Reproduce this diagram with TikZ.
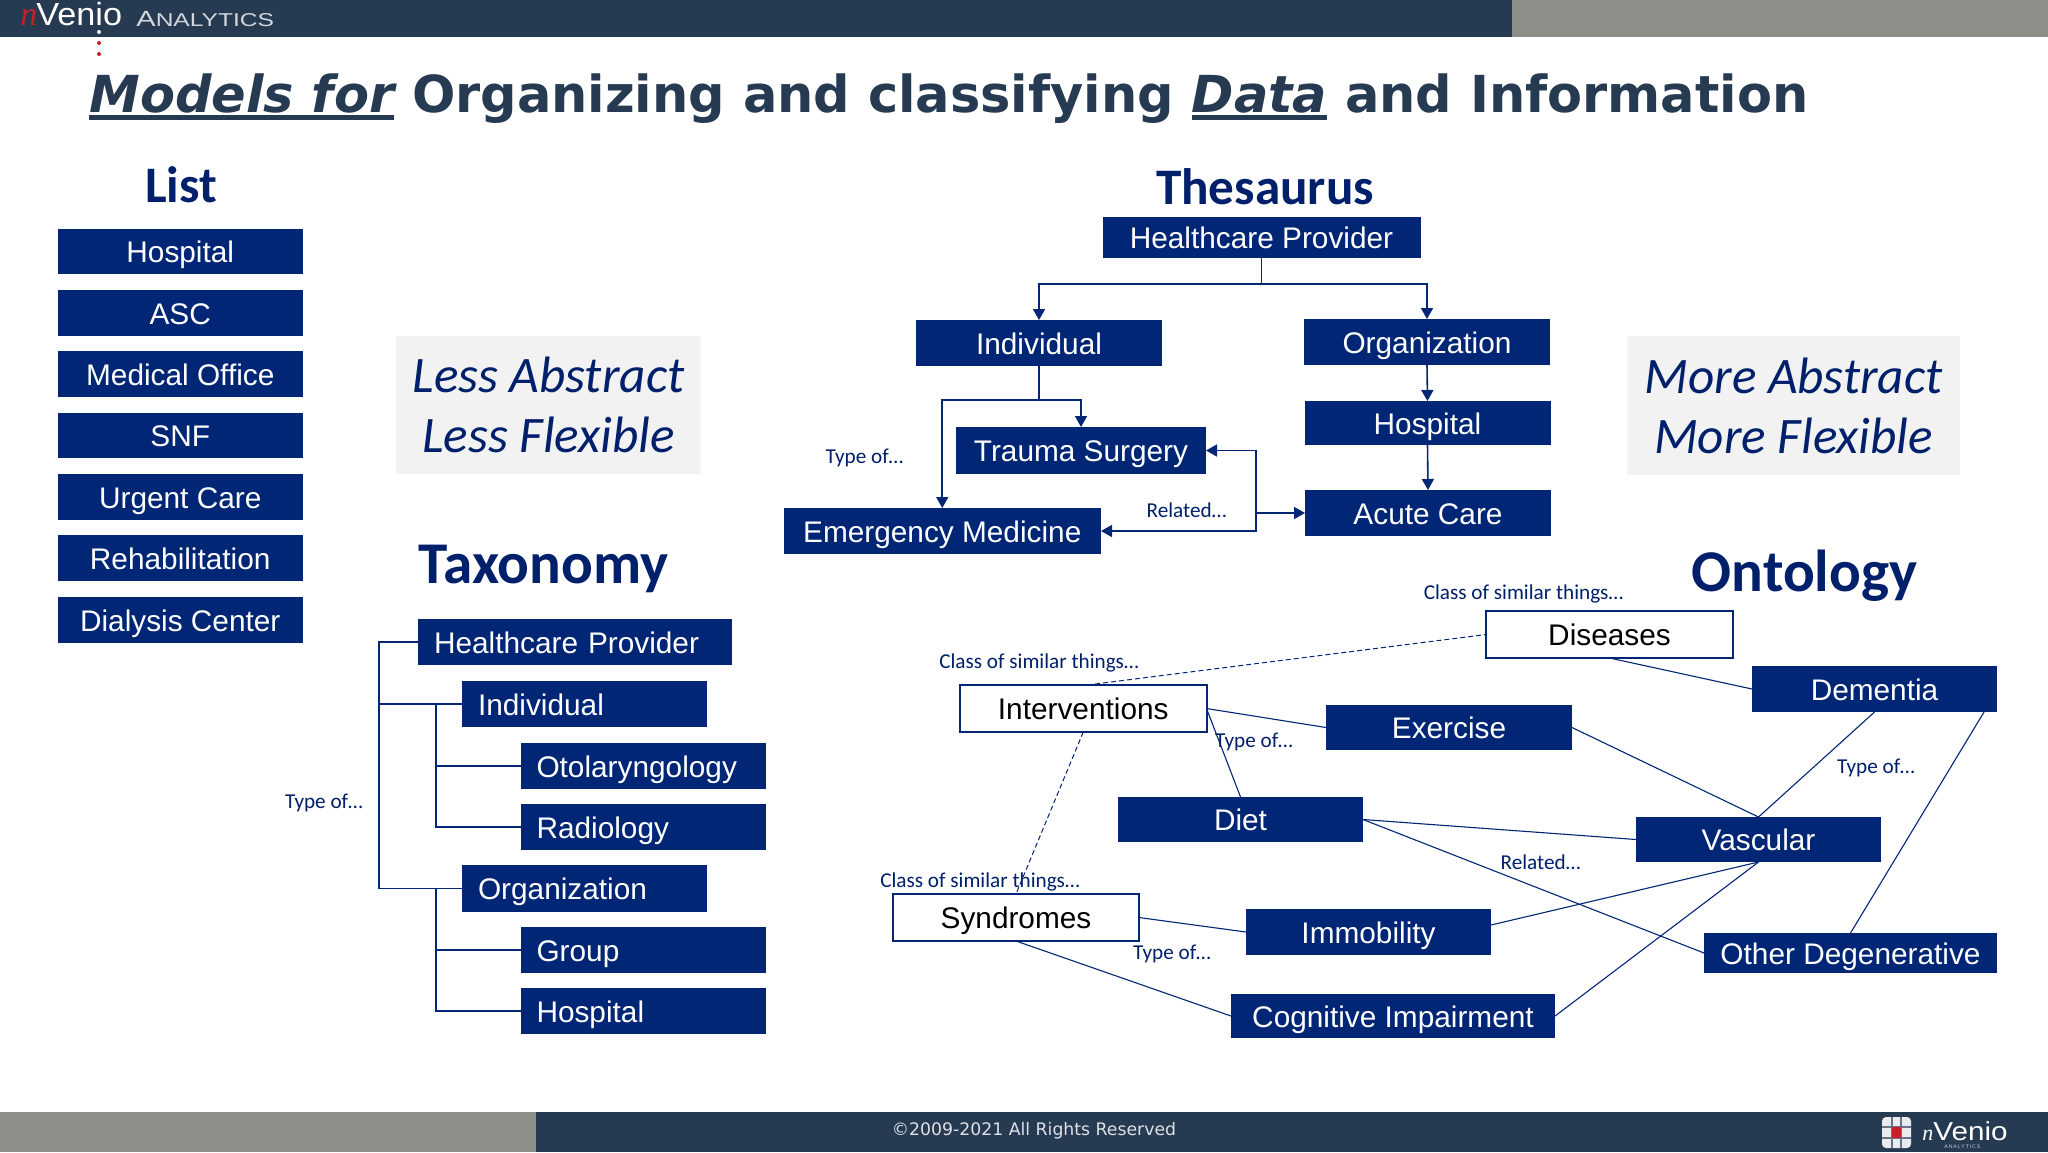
\documentclass[tikz,border=0pt]{standalone}
\usepackage{graphicx}
\usepackage{fontspec}
\usetikzlibrary{arrows.meta,calc}
\setmainfont{Liberation Sans}
\newfontfamily\crl{Carlito}
\newfontfamily\djv{DejaVu Sans}
\newfontfamily\lser{Liberation Serif}
\definecolor{navy}{HTML}{012676}
\definecolor{headnavy}{HTML}{00206B}
\definecolor{bar}{HTML}{263A52}
\definecolor{barg}{HTML}{8B8F87}
\definecolor{tint}{HTML}{F2F2F2}
\definecolor{logored}{HTML}{C8202A}
\newcommand\ulx[1]{\setbox0=\hbox{#1}\rlap{\rule[-3.75pt]{\wd0}{2.2pt}}\box0\relax}
\newcommand\bx[7]{%
  \pgfmathsetmacro\bw{(#5-#3)*0.5}%
  \pgfmathsetmacro\bh{(#6-#4)*0.5}%
  \pgfmathsetmacro\bwt{(#5-#3)*0.5-16}%
  \node[#1,minimum width=\bw pt,minimum height=\bh pt] (#2) at ({(#3+#5)/2},{(#4+#6)/2}) {#7};}
\tikzset{
  solidbox/.style={fill=navy,text=white,inner xsep=0pt,inner ysep=0pt,outer sep=0pt,font=\fontsize{14.9}{15}\selectfont,text height=11.4pt,text depth=0pt},
  leftbox/.style={solidbox,inner xsep=8pt,text width=\bwt pt,align=left},
  classbox/.style={draw=navy,line width=1pt,fill=white,text=black,inner xsep=0pt,inner ysep=0pt,outer sep=0pt,font=\fontsize{14.9}{15}\selectfont,text height=11.4pt,text depth=0pt},
  tintbox/.style={fill=tint,text=headnavy,inner sep=0pt,outer sep=0pt,align=center,font=\crl\itshape\fontsize{25.6}{30}\selectfont},
  heading/.style={text=headnavy,inner sep=0pt,font=\crl\bfseries\fontsize{25.6}{25.6}\selectfont},
  bigheading/.style={text=headnavy,inner sep=0pt,font=\crl\bfseries\fontsize{29.6}{29.6}\selectfont},
  lbl/.style={text=headnavy,inner sep=0pt,yshift=-1pt,font=\crl\fontsize{10.6}{10.6}\selectfont},
  wire/.style={draw=navy,line width=.6pt},
  thin wire/.style={draw=navy,line width=.55pt},
  dash wire/.style={draw=navy,line width=.5pt,dash pattern=on 2.5pt off 1.5pt},
  arr/.style={draw=navy,line width=.8pt,-{Triangle[length=5.5pt,width=6pt]}},
}
\begin{document}
\begin{tikzpicture}[x=0.5pt,y=-0.5pt]
\useasboundingbox (0,0) rectangle (2048,1152);
\fill[white] (0,0) rectangle (2048,1152);
% bars
\fill[bar] (0,0) rectangle (1512,37);
\fill[barg] (1512,0) rectangle (2048,37);
\fill[barg] (0,1112) rectangle (536,1152);
\fill[bar] (536,1112) rectangle (2048,1152);
% header logo
\node[anchor=base west,inner sep=0pt,text=logored,font=\lser\itshape\fontsize{17}{17}\selectfont] (hn) at (20,25.5) {n};
\node[anchor=base west,inner sep=0pt,text=white,font=\fontsize{16}{16}\selectfont] (hv) at (36,25.5) {\scalebox{1.07}[1]{Venio}};
\node[anchor=base west,inner sep=0pt,text=white!80!bar,font=\fontsize{11}{11}\selectfont] (ha) at (136,26) {\scalebox{1.32}[1]{A{\fontsize{9.3}{9.3}\selectfont NALYTICS}}};
\fill[white] (99,32) circle (2);
\fill[logored] (99,43) circle (2);
\fill[logored] (99,54) circle (2);
% title
\node[anchor=base west,inner sep=0pt,text=bar,font=\djv\bfseries\fontsize{25.5}{25.5}\selectfont] (title) at (89,112)
  {\ulx{\itshape Models for} Organizing and classifying \ulx{\itshape Data} and Information};
% list
\node[heading] (hlist) at (181,185) {List};
\bx{solidbox}{l1}{57.5}{228.5}{303}{274}{Hospital}
\bx{solidbox}{l2}{57.5}{290}{303}{336}{ASC}
\bx{solidbox}{l3}{57.5}{351}{303}{397}{Medical Office}
\bx{solidbox}{l4}{57.5}{413}{303}{458}{SNF}
\bx{solidbox}{l5}{57.5}{474}{303}{520}{Urgent Care}
\bx{solidbox}{l6}{57.5}{535}{303}{581}{Rehabilitation}
\bx{solidbox}{l7}{57.5}{597}{303}{643}{Dialysis Center}
% abstract boxes
\bx{tintbox}{less}{396}{336}{701}{474}{Less Abstract\\Less Flexible}
\bx{tintbox}{more}{1627}{336}{1960}{475}{More Abstract\\More Flexible}
% thesaurus
\node[heading] (hthes) at (1265,187) {Thesaurus};
\bx{solidbox}{thp}{1102.5}{217}{1420.5}{258}{Healthcare Provider}
\bx{solidbox}{tind}{916}{320}{1162}{366}{Individual}
\bx{solidbox}{torg}{1304}{319}{1550}{365}{Organization}
\bx{solidbox}{thos}{1304.5}{401}{1550.5}{445}{Hospital}
\bx{solidbox}{tac}{1305}{490}{1551}{536}{Acute Care}
\bx{solidbox}{ttra}{956}{427}{1206}{474}{Trauma Surgery}
\bx{solidbox}{tem}{783.5}{508}{1101}{554}{Emergency Medicine}
\coordinate (thj) at (1261.5,284);
\coordinate (indj) at (1039,400);
\coordinate (relj) at (1256,513);
\draw[wire] (thp.south) -- (thj);
\draw[arr] (thj) -| (tind.north);
\draw[arr] (thj) -| (torg.north);
\draw[wire] (tind.south) -- (indj);
\draw[arr] (indj) -| (ttra.north);
\draw[arr] (indj) -| (tem.north);
\draw[arr] (torg.south) -- (thos.north);
\draw[arr] (thos.south) -- (tac.north);
\draw[arr] (relj) -- (tac.west);
\draw[arr] (relj) |- (ttra.east);
\draw[arr] (relj) |- (tem.east);
\node[lbl] (lt1) at (864.5,456) {Type of…};
\node[lbl] (lt2) at (1186.5,508) {Related…};
% taxonomy
\node[bigheading] (htax) at (543.5,569) {Taxonomy};
\bx{leftbox}{xhp}{418}{619}{732}{665}{Healthcare Provider}
\bx{leftbox}{xind}{462}{681}{707}{727}{Individual}
\bx{leftbox}{xoto}{520.5}{743}{766}{789}{Otolaryngology}
\bx{leftbox}{xrad}{520.5}{804}{766}{850}{Radiology}
\bx{leftbox}{xorg}{462}{865}{707}{912}{Organization}
\bx{leftbox}{xgrp}{520.5}{927}{766}{973}{Group}
\bx{leftbox}{xhos}{520.5}{988}{766}{1034}{Hospital}
\coordinate (xa) at (379,704);
\coordinate (xb) at (436,704);
\coordinate (xc) at (436,888.5);
\draw[wire] (xhp.west) -| (xa) |- (xorg.west);
\draw[wire] (xa) -- (xind.west);
\draw[wire] (xb) |- (xoto.west);
\draw[wire] (xb) |- (xrad.west);
\draw[wire] (xc) |- (xgrp.west);
\draw[wire] (xc) |- (xhos.west);
\node[lbl] (lt3) at (324,801) {Type of…};
% ontology
\node[bigheading] (hont) at (1804.5,576) {Ontology};
\bx{classbox}{oint}{960}{685}{1206.5}{732}{Interventions}
\bx{classbox}{osyn}{893}{894}{1139}{941}{Syndromes}
\bx{classbox}{odis}{1486}{611}{1733}{658}{Diseases}
\bx{solidbox}{odie}{1118}{797}{1363}{842}{Diet}
\bx{solidbox}{oexe}{1326}{705}{1572}{750}{Exercise}
\bx{solidbox}{oimm}{1246}{909}{1491}{955}{Immobility}
\bx{solidbox}{ocog}{1231}{994}{1555}{1038}{Cognitive Impairment}
\bx{solidbox}{odem}{1752}{666}{1997}{712}{Dementia}
\bx{solidbox}{ovas}{1636}{817}{1881}{862}{Vascular}
\bx{solidbox}{ooth}{1704}{933}{1997}{973}{Other Degenerative}
\draw[dash wire] ([xshift=2pt]oint.north) -- (odis.west);
\draw[dash wire] (oint.south) -- (osyn.north);
\draw[thin wire] (oint.east) -- (oexe.west);
\draw[thin wire] (oint.east) -- (odie.north);
\draw[thin wire] (odie.east) -- (ovas.west);
\draw[thin wire] (odie.east) -- (ooth.west);
\draw[thin wire] (oexe.east) -- (ovas.north);
\draw[thin wire] (odem.south) -- (ovas.north);
\draw[thin wire] ([xshift=-6.5pt]odem.south east) -- (ooth.north);
\draw[thin wire] (odis.south) -- (odem.west);
\draw[thin wire] (osyn.east) -- (oimm.west);
\draw[thin wire] (osyn.south) -- (ocog.west);
\draw[thin wire] ([yshift=3.5pt]oimm.east) -- (ovas.south);
\draw[thin wire] (ocog.east) -- (ovas.south);
\node[lbl] (lc1) at (1523.5,592) {Class of similar things…};
\node[lbl] (lc2) at (1039,661) {Class of similar things…};
\node[lbl] (lc3) at (980,880) {Class of similar things…};
\node[lbl] (lt4) at (1254,740) {Type of…};
\node[lbl] (lt5) at (1172,952) {Type of…};
\node[lbl] (lt6) at (1876,766) {Type of…};
\node[lbl] (lr2) at (1540.5,860) {Related…};
% footer
\node[inner sep=0pt,text=white!85!bar,font=\djv\fontsize{8.64}{9}\selectfont] (foot) at (1034,1131) {©2009-2021 All Rights Reserved};
\fill[white!90!bar,rounded corners=2pt] (1882,1117) rectangle (1911,1148);
\draw[bar!70!white,line width=.6pt] (1892,1117) -- (1892,1148) (1901,1117) -- (1901,1148) (1882,1127) -- (1911,1127) (1882,1138) -- (1911,1138);
\fill[logored] (1892,1127) rectangle (1901,1138);
\node[anchor=base west,inner sep=0pt,text=white,font=\lser\itshape\fontsize{11}{11}\selectfont] (fn) at (1922,1140) {n};
\node[anchor=base west,inner sep=0pt,text=white,font=\fontsize{13}{13}\selectfont] (fv) at (1933,1140) {\scalebox{1.14}[1]{Venio}};
\node[anchor=base west,inner sep=0pt,text=white!75!bar,font=\fontsize{2.6}{3}\selectfont] (fa) at (1944,1148) {A\,N\,A\,L\,Y\,T\,I\,C\,S};
\end{tikzpicture}
\end{document}
